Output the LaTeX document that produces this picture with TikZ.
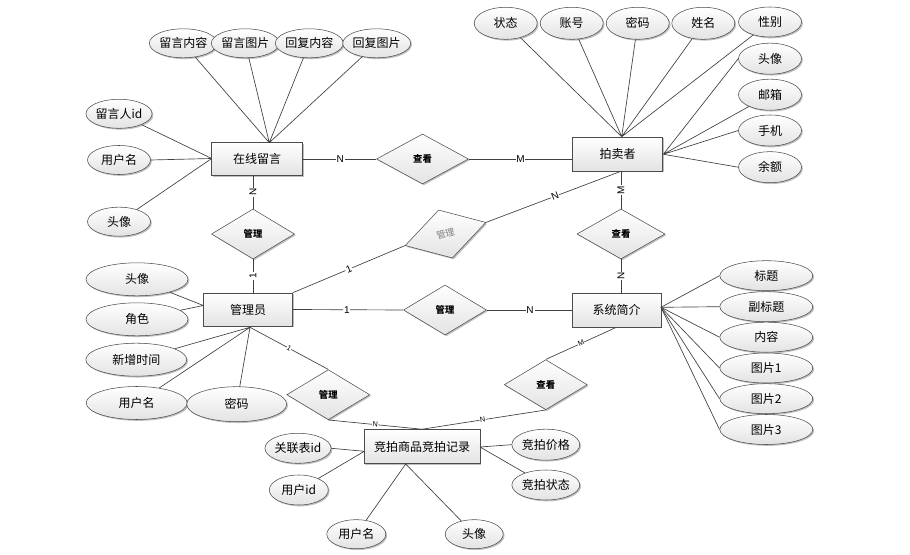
\documentclass[tikz,border=0pt]{standalone}
\usepackage{fontspec}
\newfontfamily\cjk{Noto Sans CJK SC}
\newfontfamily\labfont{Liberation Sans}
\usetikzlibrary{shapes.geometric,shadows}
\begin{document}
\begin{tikzpicture}[x=0.75pt,y=-0.75pt,
  font=\cjk\fontsize{9}{10}\selectfont,
  boxbase/.style={draw=gray!60!black, top color=white, bottom color=gray!22,
    drop shadow={shadow xshift=1pt, shadow yshift=-1pt, opacity=0.25, fill=black}},
  ent/.style 2 args={boxbase, rectangle, inner sep=0pt, minimum width=#1*0.75pt, minimum height=#2*0.75pt},
  attr/.style 2 args={boxbase, ellipse, inner sep=0pt, minimum width=#1*0.75pt, minimum height=#2*0.75pt},
  rel/.style 2 args={boxbase, diamond, inner sep=0pt, minimum width=#1*0.75pt, minimum height=#2*0.75pt, font=\cjk\bfseries\fontsize{7}{8}\selectfont},
  conn/.style={draw=black!75, line width=0.5pt},
  lab/.style={fill=white, inner sep=0.6pt, font=\labfont\fontsize{7.5}{8}\selectfont},
  slab/.style={fill=white, inner sep=0.3pt, font=\labfont\fontsize{5.5}{6}\selectfont}
]
\useasboundingbox (0,0) rectangle (910,555);

% entities
\node[ent={91}{33}] (zx) at (257,159) {在线留言};
\node[ent={90}{34}] (pmz) at (617.5,154) {拍卖者};
\node[ent={89}{33}] (gly) at (248,309.5) {管理员};
\node[ent={89}{34}] (xt) at (616.5,310) {系统简介};
\node[ent={116}{34}] (jp) at (422,446.5) {竞拍商品竞拍记录};

% relationships
\node[rel={92}{50}] (ck1) at (422.5,159) {查看};
\node[rel={83}{50}] (gl1) at (253,234) {管理};
\node[rel={84}{50}, rotate=16, font=\cjk\fontsize{7}{8}\selectfont, text=gray] (gl2) at (445.5,234) {管理};
\node[rel={88}{50}] (ck2) at (621,234) {查看};
\node[rel={83}{50}] (gl3) at (445,310) {管理};
\node[rel={83}{50}] (gl4) at (328.3,394.7) {管理};
\node[rel={83}{50}] (ck3) at (545.8,384.7) {查看};

% convergence points
\coordinate (cz) at (269.3,142.7);
\coordinate (cl) at (211.7,158.5);
\coordinate (pt) at (621.7,136.7);
\coordinate (pr) at (663.3,154.3);
\coordinate (gleft) at (203.3,305.5);
\coordinate (gbot) at (250,327.3);
\coordinate (jleft) at (364.3,451.3);
\coordinate (jbot) at (405.7,464);
\coordinate (jright) at (480,447);
\coordinate (xr) at (661,307.3);

% attributes of 在线留言
\node[attr={59}{29}] (a1) at (183.3,43.3) {留言内容};
\node[attr={57}{29}] (a2) at (245.3,43.3) {留言图片};
\node[attr={62}{29}] (a3) at (309.3,43.3) {回复内容};
\node[attr={63}{29}] (a4) at (376.7,43.3) {回复图片};
\node[attr={63}{29}] (b1) at (119,113.8) {留言人id};
\node[attr={63}{29}] (b2) at (119,160) {用户名};
\node[attr={63}{29}] (b3) at (119,221.7) {头像};

% attributes of 拍卖者
\node[attr={63}{32}] (c1) at (505.7,23.3) {状态};
\node[attr={63}{32}] (c2) at (571.7,23.3) {账号};
\node[attr={63}{32}] (c3) at (637.7,23.3) {密码};
\node[attr={63}{32}] (c4) at (703.3,23.3) {姓名};
\node[attr={63}{30}] (c5) at (770,22) {性别};
\node[attr={63}{31}] (c6) at (770,58.7) {头像};
\node[attr={63}{31}] (c7) at (770,94.7) {邮箱};
\node[attr={63}{31}] (c8) at (770,130.5) {手机};
\node[attr={63}{31}] (c9) at (770,167.2) {余额};

% attributes of 管理员
\node[attr={102}{33}] (d1) at (137,279.3) {头像};
\node[attr={102}{33}] (d2) at (137,319.3) {角色};
\node[attr={101}{33}] (d3) at (136.3,359.7) {新增时间};
\node[attr={101}{33}] (d4) at (136.7,403) {用户名};
\node[attr={100}{35}] (d5) at (236.7,404.2) {密码};

% attributes of 竞拍商品竞拍记录
\node[attr={57}{30}] (e1) at (298,448.3) {关联表id};
\node[attr={59}{30}] (e2) at (298.8,490) {用户id};
\node[attr={59}{29}] (e3) at (356.3,534.2) {用户名};
\node[attr={58}{29}] (e4) at (474.2,534.2) {头像};
\node[attr={58}{31}] (e5) at (545.8,444.7) {竞拍价格};
\node[attr={58}{30}] (e6) at (545.8,485) {竞拍状态};

% attributes of 系统简介
\node[attr={93}{30}] (f1) at (766.3,275.7) {标题};
\node[attr={93}{30}] (f2) at (766.3,306.7) {副标题};
\node[attr={93}{30}] (f3) at (766.3,337.2) {内容};
\node[attr={93}{30}] (f4) at (766.3,368) {图片1};
\node[attr={93}{30}] (f5) at (766.3,398.7) {图片2};
\node[attr={93}{30}] (f6) at (766.3,429.5) {图片3};

% attribute lines
\draw[conn] (a1) -- (cz) (a2) -- (cz) (a3) -- (cz) (a4) -- (cz);
\draw[conn] (b1) -- (cl) (b2.east) -- (cl) (b3) -- (cl);
\draw[conn] (c1) -- (pt) (c2) -- (pt) (c3) -- (pt) (c4) -- (pt) (c5) -- (pt);
\draw[conn] (c6.west) -- (pr) (c7) -- (pr) (c8.west) -- (pr) (c9.west) -- (pr);
\draw[conn] (d1) -- (gleft) (d2) -- (gleft);
\draw[conn] (d3) -- (gbot) (d4) -- (gbot) (d5) -- (gbot);
\draw[conn] (e1.east) -- (jleft) (e2) -- (jleft);
\draw[conn] (e3) -- (jbot) (e4) -- (jbot);
\draw[conn] (e5.west) -- (jright) (e6) -- (jright);
\foreach \f in {f1,f2,f3,f4,f5,f6} \draw[conn] (\f.west) -- (xr);

% relationship lines
\draw[conn] (zx.east) -- node[lab, pos=0.51] {N} (ck1.west);
\draw[conn] (ck1.east) -- node[lab] {M} (ck1.east -| pmz.west);
\draw[conn] (gl1.north) -- node[lab, rotate=90] {N} (gl1.north |- zx.south);
\draw[conn] (gl1.south) -- node[lab, rotate=90] {1} (gl1.south |- gly.north);
\draw[conn] (gly.north east) -- node[lab, sloped] {1} (gl2.west);
\draw[conn] (gl2.east) -- node[lab, sloped, pos=0.51] {N} (ck2.north |- pmz.south);
\draw[conn] (ck2.north) -- node[lab, rotate=90] {M} (ck2.north |- pmz.south);
\draw[conn] (ck2.south) -- node[lab, rotate=90] {N} (ck2.south |- xt.north);
\draw[conn] (gly.east) -- node[lab, pos=0.49] {1} (gl3.west);
\draw[conn] (gl3.east) -- node[lab, pos=0.51] {N} (gl3.east -| xt.west);
\draw[conn] (gbot) -- node[slab, sloped] {1} (gl4.north);
\draw[conn] (gl4.south) -- node[slab, sloped] {N} (jp.north);
\draw[conn] (ck3.south) -- node[slab, sloped, pos=0.51] {N} (jp.north);
\draw[conn] (xt.south) -- node[slab, sloped] {M} (ck3.north);
\end{tikzpicture}
\end{document}
